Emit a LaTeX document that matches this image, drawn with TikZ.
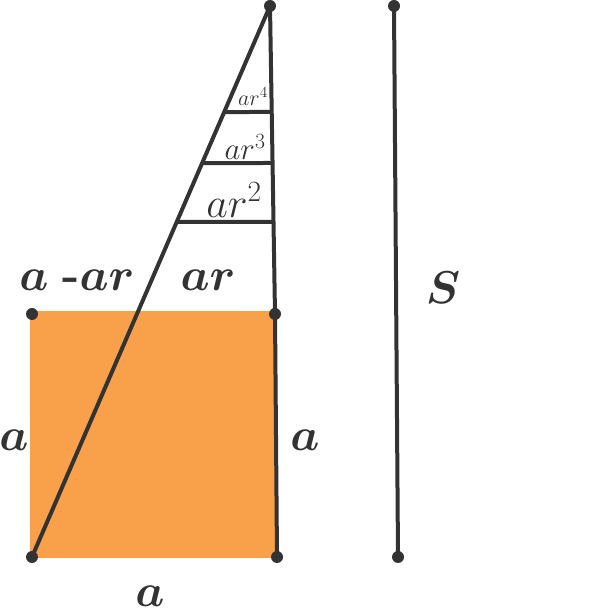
\documentclass[tikz,border=0pt]{standalone}
\usepackage{fix-cm}
\usepackage{amsmath}
\usetikzlibrary{calc}
\definecolor{ink}{HTML}{333333}
\definecolor{fillorange}{HTML}{F9A04A}
\tikzset{
  seg/.style={draw=ink,line width=4pt,line cap=round},
  pt/.style={circle,fill=ink,inner sep=0pt,minimum size=12pt},
  lbl/.style={text=ink,inner sep=0pt,font=\fontsize{46}{50}\selectfont},
  small/.style={text=ink,inner sep=0pt},
}
\begin{document}
\begin{tikzpicture}[x=1pt,y=1pt]
\useasboundingbox (0,0) rectangle (599,616);
% points (y = 616 - pixel row)
\coordinate (T) at (270,610);
\coordinate (Q) at (275,302);
\coordinate (BR) at (277,59);
\coordinate (BL) at (32,59);
\coordinate (TL) at (32,302);
\coordinate (S1) at (394,610);
\coordinate (S2) at (398,59);
% square
\fill[fillorange] (30,58) rectangle (277,305);
% lines
\draw[seg] (BL) -- (T);
\draw[seg] (T) -- (Q) -- (BR);
\draw[seg] (S1) -- (S2);
% rungs
\coordinate (h2a) at ($(BL)!0.608!(T)$);
\coordinate (h2b) at (273.5,394);
\coordinate (h3a) at ($(BL)!0.715!(T)$);
\coordinate (h3b) at (272.6,453);
\coordinate (h4a) at ($(BL)!0.8076!(T)$);
\coordinate (h4b) at (271.8,504);
\draw[seg,line cap=butt] (h2a) -- (h2b);
\draw[seg,line cap=butt] (h3a) -- (h3b);
\draw[seg,line cap=butt] (h4a) -- (h4b);
% dots
\foreach \p in {T,Q,BR,BL,TL,S1,S2} \node[pt] at (\p) {};
% labels
\node[lbl] (l1) at (77,336) {$\boldsymbol{a}$ \textbf{-}$\boldsymbol{ar}$};
\node[lbl] (l2) at (208,336) {$\boldsymbol{ar}$};
\node[lbl] (l3) at (14,176) {$\boldsymbol{a}$};
\node[lbl] (l4) at (305,176) {$\boldsymbol{a}$};
\node[lbl] (l5) at (150,20) {$\boldsymbol{a}$};
\node[lbl] (l6) at (443,328) {$\boldsymbol{S}$};
\node[small,font=\fontsize{42}{44}\selectfont] (r2) at (234,416) {$ar^2$};
\node[small,font=\fontsize{31}{33}\selectfont] (r3) at (245,469) {$ar^3$};
\node[small,font=\fontsize{22}{24}\selectfont] (r4) at (253,519) {$ar^4$};
\end{tikzpicture}
\end{document}
